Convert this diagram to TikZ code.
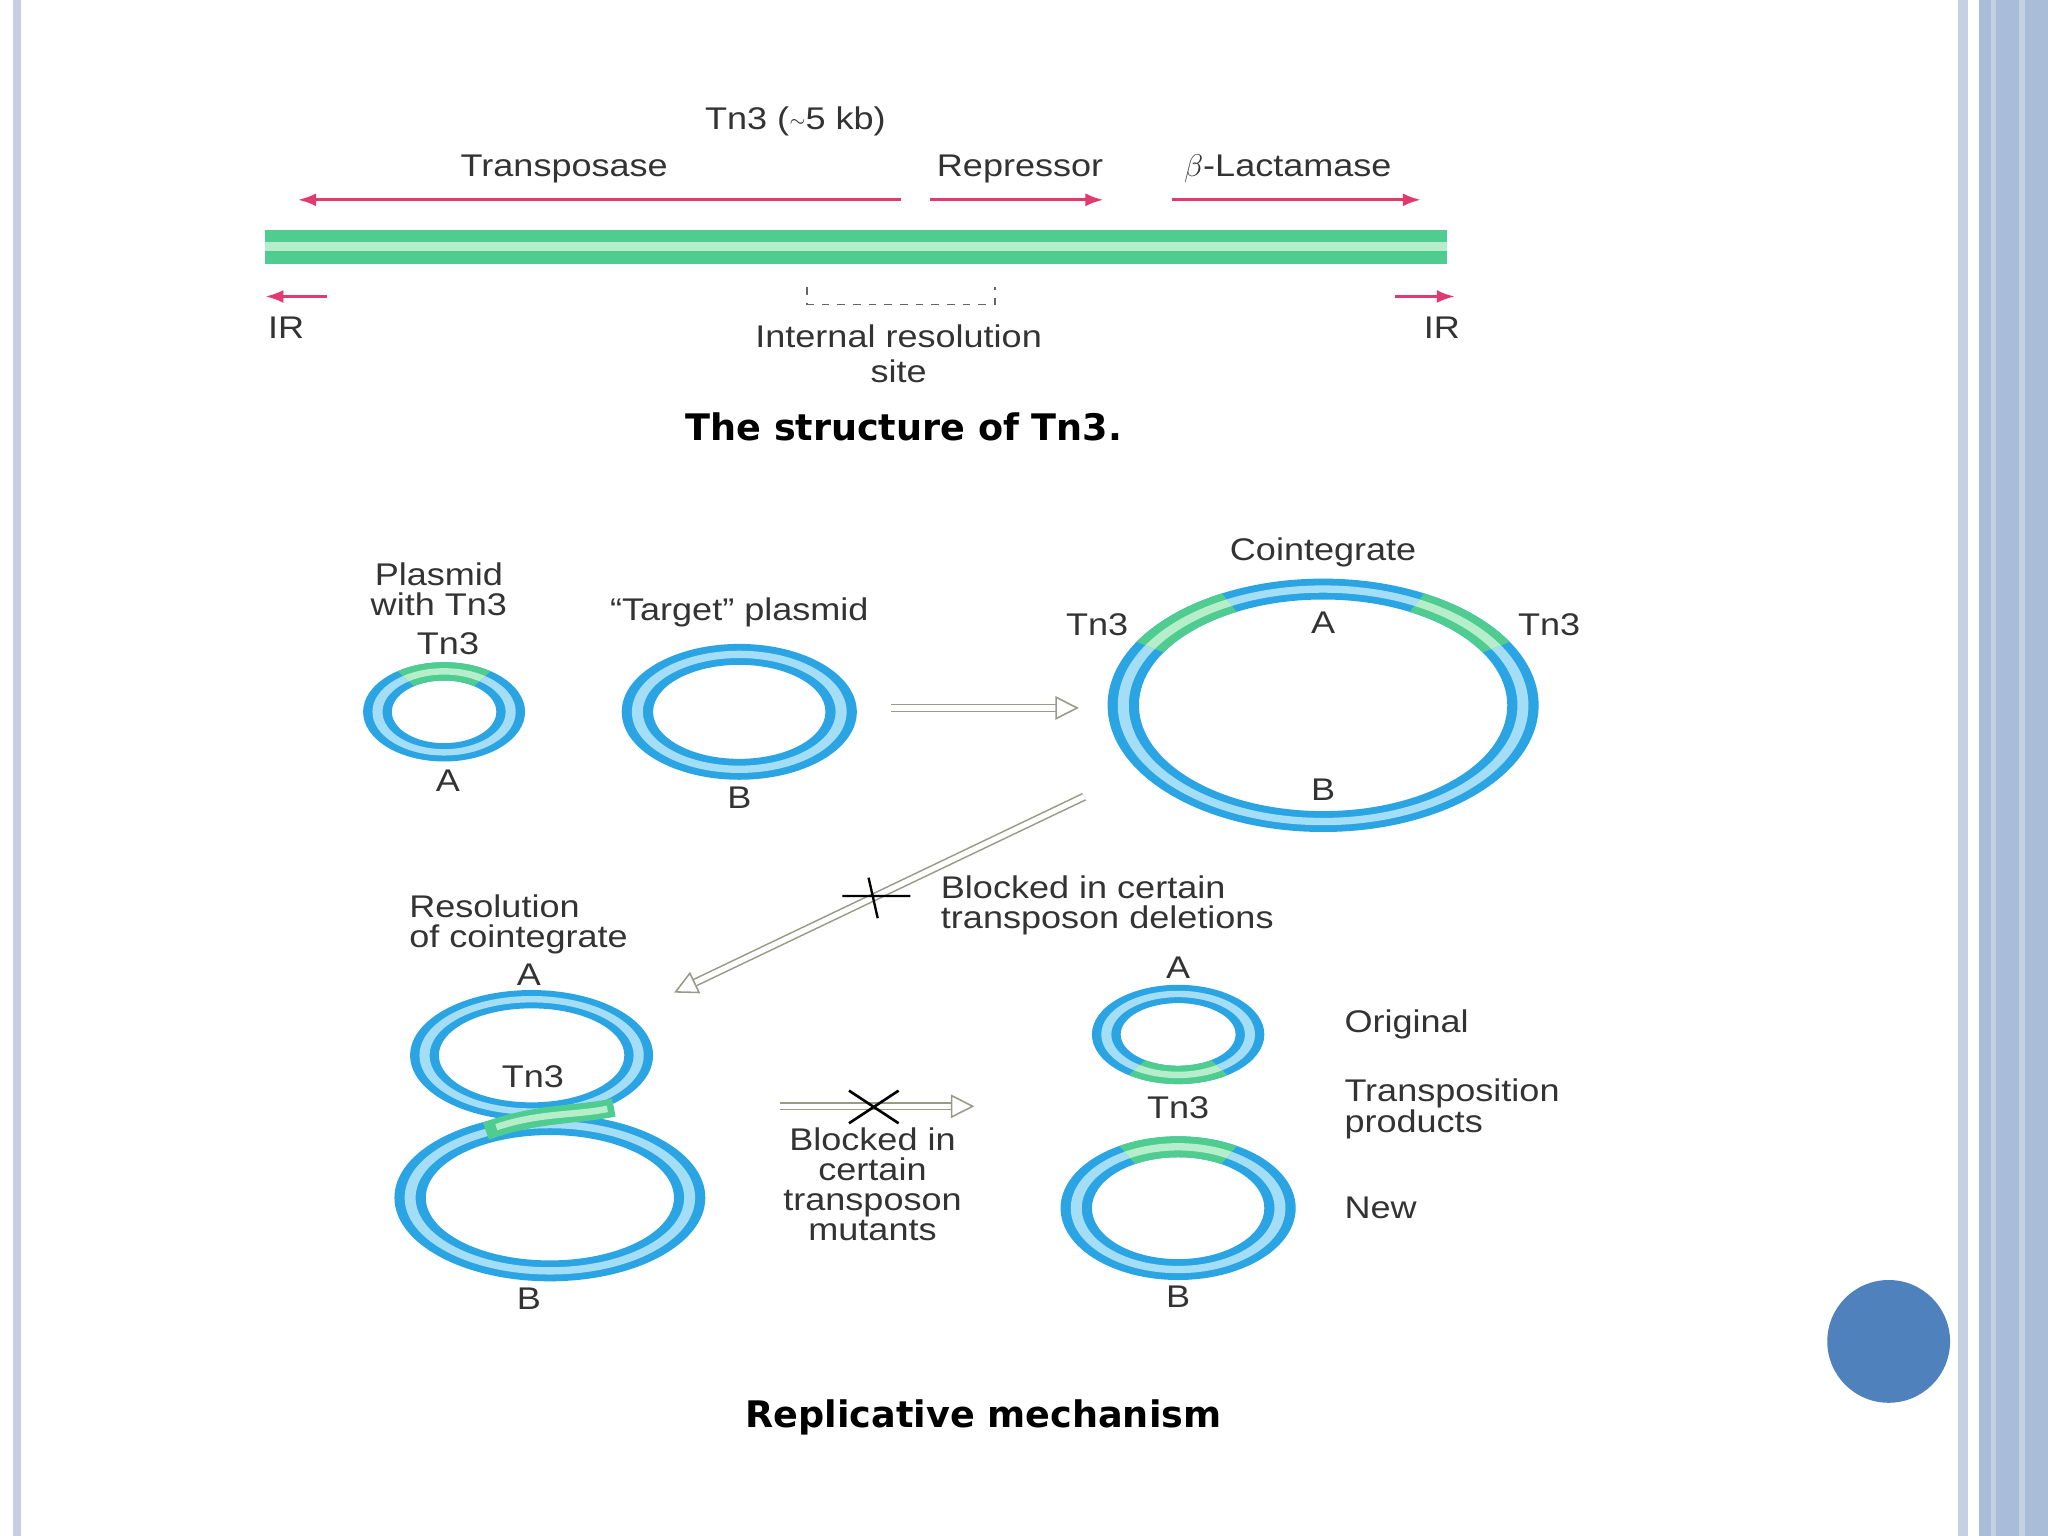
\documentclass[tikz,border=0pt]{standalone}
\usepackage{fontspec}
\setmainfont[FakeStretch=1.15]{Liberation Sans}
\newfontfamily\capfont{DejaVu Sans}
\usetikzlibrary{arrows.meta}
\definecolor{ringB}{HTML}{2AA4E2}
\definecolor{ringBl}{HTML}{A4DDF6}
\definecolor{ringG}{HTML}{4FCC90}
\definecolor{ringGl}{HTML}{B6EECB}
\definecolor{pinkA}{HTML}{E23A6E}
\definecolor{frameA}{HTML}{C5D0E4}
\definecolor{frameB}{HTML}{A9BCD8}
\definecolor{dotB}{HTML}{4F81BD}
\definecolor{arrG}{HTML}{9A9A88}
\tikzset{
 lbl/.style={font=\fontsize{12}{11.5}\selectfont, text=black!80, inner sep=0pt, align=center},
 captxt/.style={font=\capfont\bfseries\fontsize{14}{16}\selectfont, inner sep=0pt},
 pink/.style={draw=pinkA, line width=1.2pt, -{Latex[length=7pt,width=5pt]}},
 hollow/.style={draw=arrG, double=white, double distance=2pt, line width=0.6pt, -{Triangle[open,length=9pt,width=9pt]}},
}
\newcommand{\myring}[6]{%
 \fill[ringB, even odd rule] (#1,#2) ellipse [x radius=#3+#5, y radius=#4+#6] (#1,#2) ellipse [x radius=#3-#5, y radius=#4-#6];
 \fill[ringBl, even odd rule] (#1,#2) ellipse [x radius=#3+0.35*#5, y radius=#4+0.35*#6] (#1,#2) ellipse [x radius=#3-0.35*#5, y radius=#4-0.35*#6];}
\newcommand{\mygreen}[8]{%
 \fill[ringG] ([shift={(#1,#2)}]#7:#3+#5 and #4+#6) arc [start angle=#7, end angle=#8, x radius=#3+#5, y radius=#4+#6]
   -- ([shift={(#1,#2)}]#8:#3-#5 and #4-#6) arc [start angle=#8, end angle=#7, x radius=#3-#5, y radius=#4-#6] -- cycle;
 \fill[ringGl] ([shift={(#1,#2)}]#7:#3+0.35*#5 and #4+0.35*#6) arc [start angle=#7, end angle=#8, x radius=#3+0.35*#5, y radius=#4+0.35*#6]
   -- ([shift={(#1,#2)}]#8:#3-0.35*#5 and #4-0.35*#6) arc [start angle=#8, end angle=#7, x radius=#3-0.35*#5, y radius=#4-0.35*#6] -- cycle;}
\begin{document}
\begin{tikzpicture}[x=0.5pt,y=-0.5pt]
\useasboundingbox[fill=white] (0,0) rectangle (1568,1176);
\fill[frameA] (10,0) rectangle (16,1176);
\fill[frameA] (1499,0) rectangle (1507,1176);
\fill[frameB] (1515,0) rectangle (1568,1176);
\fill[frameA] (1524,0) rectangle (1528,1176);
\fill[frameA] (1546,0) rectangle (1550,1176);
\fill[dotB] (1446,1027) circle [radius=47];
% Tn3 structure
\fill[ringG] (203,176) rectangle (1108,202);
\fill[ringGl] (203,185) rectangle (1108,192);
\coordinate (t1s) at (690,153); \coordinate (t1e) at (228,153);
\coordinate (r1s) at (712,153); \coordinate (r1e) at (845,153);
\coordinate (b1s) at (897,153); \coordinate (b1e) at (1088,153);
\coordinate (i1s) at (250,227); \coordinate (i1e) at (203,227);
\coordinate (i2s) at (1068,227); \coordinate (i2e) at (1114,227);
\draw[pink] (t1s) -- (t1e);
\draw[pink] (r1s) -- (r1e);
\draw[pink] (b1s) -- (b1e);
\draw[pink] (i1s) -- (i1e);
\draw[pink] (i2s) -- (i2e);
\draw[black!60, dashed, line width=0.6pt] (618,220) -- (618,233) -- (762,233) -- (762,220);
\node[lbl] (tn3) at (609,93) {Tn3 (\raisebox{1pt}{\scriptsize$\sim$}5 kb)};
\node[lbl] (trp) at (432,129) {Transposase};
\node[lbl] (rep) at (781,129) {Repressor};
\node[lbl] (bla) at (986,129) {$\beta$-Lactamase};
\node[lbl] (ir1) at (219,251) {IR};
\node[lbl] (ir2) at (1104,251) {IR};
\node[lbl, font=\fontsize{12}{13.5}\selectfont] (irs) at (688,271) {Internal resolution\\site};
\node[captxt] (c1) at (692,327) {The structure of Tn3.};
% plasmids
\myring{340}{545}{51}{31}{11}{7}
\mygreen{340}{545}{51}{31}{11}{7}{-125}{-55}
\myring{566}{545}{78}{44}{12}{8}
\myring{1013}{540}{153}{89}{12}{8}
\mygreen{1013}{540}{153}{89}{12}{8}{-150}{-118}
\mygreen{1013}{540}{153}{89}{12}{8}{-62}{-30}
\node[lbl] (pw) at (336,451) {Plasmid\\with Tn3};
\node[lbl] (pt) at (343,493) {Tn3};
\node[lbl] (pa) at (343,598) {A};
\node[lbl] (tp) at (566,469) {``Target'' plasmid};
\node[lbl] (tb) at (566,611) {B};
\node[lbl] (ci) at (1013,423) {Cointegrate};
\node[lbl] (ct1) at (840,478) {Tn3};
\node[lbl] (ct2) at (1186,478) {Tn3};
\node[lbl] (ca) at (1013,477) {A};
\node[lbl] (cb) at (1013,605) {B};
\coordinate (a1s) at (682,542); \coordinate (a1e) at (826,542);
\draw[hollow] (a1s) -- (a1e);
\coordinate (a2s) at (830,610); \coordinate (a2e) at (516,760);
\draw[hollow] (a2s) -- (a2e);
\draw[black, line width=0.9pt] (645,686) -- (697,686) (665,672) -- (672,703);
\node[lbl, align=left, anchor=west] (bl1) at (720,693) {Blocked in certain\\transposon deletions};
% figure 8
\myring{421}{917}{107}{56}{12}{8}
\myring{407}{808}{82}{43}{11}{7}
\draw[ringG, line width=7pt] (372,866) .. controls (410,852) and (440,854) .. (470,848);
\draw[ringGl, line width=2.5pt] (380,863) .. controls (412,852) and (440,854) .. (465,849);
\node[lbl, align=left, anchor=west] (res) at (313,708) {Resolution\\of cointegrate};
\node[lbl] (fa) at (405,746) {A};
\node[lbl] (ft) at (408,824) {Tn3};
\node[lbl] (fb) at (405,994) {B};
\coordinate (a3s) at (597,847); \coordinate (a3e) at (746,847);
\draw[hollow] (a3s) -- (a3e);
\draw[black, line width=1pt] (650,835) -- (688,860) (650,860) -- (688,835);
\node[lbl] (bl2) at (668,907) {Blocked in\\certain\\transposon\\mutants};
% products
\myring{902}{792}{55}{31}{11}{7}
\mygreen{902}{792}{55}{31}{11}{7}{55}{125}
\myring{902}{925}{78}{47}{12}{8}
\mygreen{902}{925}{78}{47}{12}{8}{-120}{-60}
\node[lbl] (pa2) at (902,741) {A};
\node[lbl] (pt2) at (902,848) {Tn3};
\node[lbl] (pb2) at (902,993) {B};
\node[lbl, anchor=west] (org) at (1029,784) {Original};
\node[lbl, anchor=west, align=left] (tpp) at (1029,849) {Transposition\\products};
\node[lbl, anchor=west] (new) at (1029,925) {New};
\node[captxt] (c2) at (753,1085) {Replicative mechanism};
\end{tikzpicture}
\end{document}
